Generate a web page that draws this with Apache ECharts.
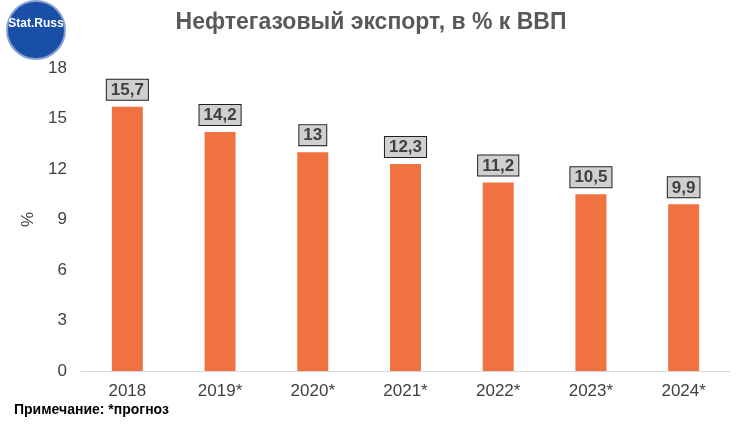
<!DOCTYPE html><html><head><meta charset="utf-8"><script src="https://cdn.jsdelivr.net/npm/echarts@6/dist/echarts.min.js"></script></head><body style="margin:0"><div id="c" style="width:742px;height:429px"></div><script>
const categories=['2018','2019*','2020*','2021*','2022*','2023*','2024*'];
const values=[15.7,14.2,13,12.3,11.2,10.5,9.9];
const yTicks={min:0,max:18,interval:3};
const c=echarts.init(document.getElementById('c'));
c.setOption({
title:{text:'Нефтегазовый экспорт, в % к ВВП',left:'center',top:6,textStyle:{fontFamily:'Liberation Sans',fontSize:23,fontWeight:'bold',color:'#595959'}},
grid:{left:81,right:12,top:68,bottom:58},
xAxis:{type:'category',data:categories,axisTick:{show:false},axisLine:{lineStyle:{color:'#d9d9d9'}},axisLabel:{fontFamily:'Liberation Sans',fontSize:17,color:'#404040',margin:12}},
yAxis:{type:'value',min:yTicks.min,max:yTicks.max,interval:yTicks.interval,splitLine:{show:false},axisLabel:{fontFamily:'Liberation Sans',fontSize:17,color:'#404040',margin:14},
name:'%',nameLocation:'middle',nameGap:44,nameRotate:90,nameTextStyle:{fontFamily:'Liberation Sans',fontSize:17,color:'#404040'}},
series:[{type:'bar',data:values,barWidth:31,itemStyle:{color:'#f07241'},
label:{show:true,position:'top',distance:7,formatter:p=>String(p.value).replace('.',','),fontFamily:'Liberation Sans',fontSize:17,fontWeight:'bold',color:'#404040',backgroundColor:'#d0d0d0',borderColor:'#202020',borderWidth:1,padding:[2,4,1,4]}}],
graphic:[
{type:'circle',shape:{cx:36,cy:30,r:29},style:{fill:'#1a4fa8',stroke:'#8aa0d0',lineWidth:2}},
{type:'text',x:36,y:24,style:{text:'Stat.Russ',fill:'#fff',font:'bold 12px Liberation Sans',textAlign:'center',textVerticalAlign:'middle'}},
{type:'text',x:14,y:403,style:{text:'Примечание: *прогноз',fill:'#000',font:'bold 14px Liberation Sans'}}
]});
</script></body></html>
